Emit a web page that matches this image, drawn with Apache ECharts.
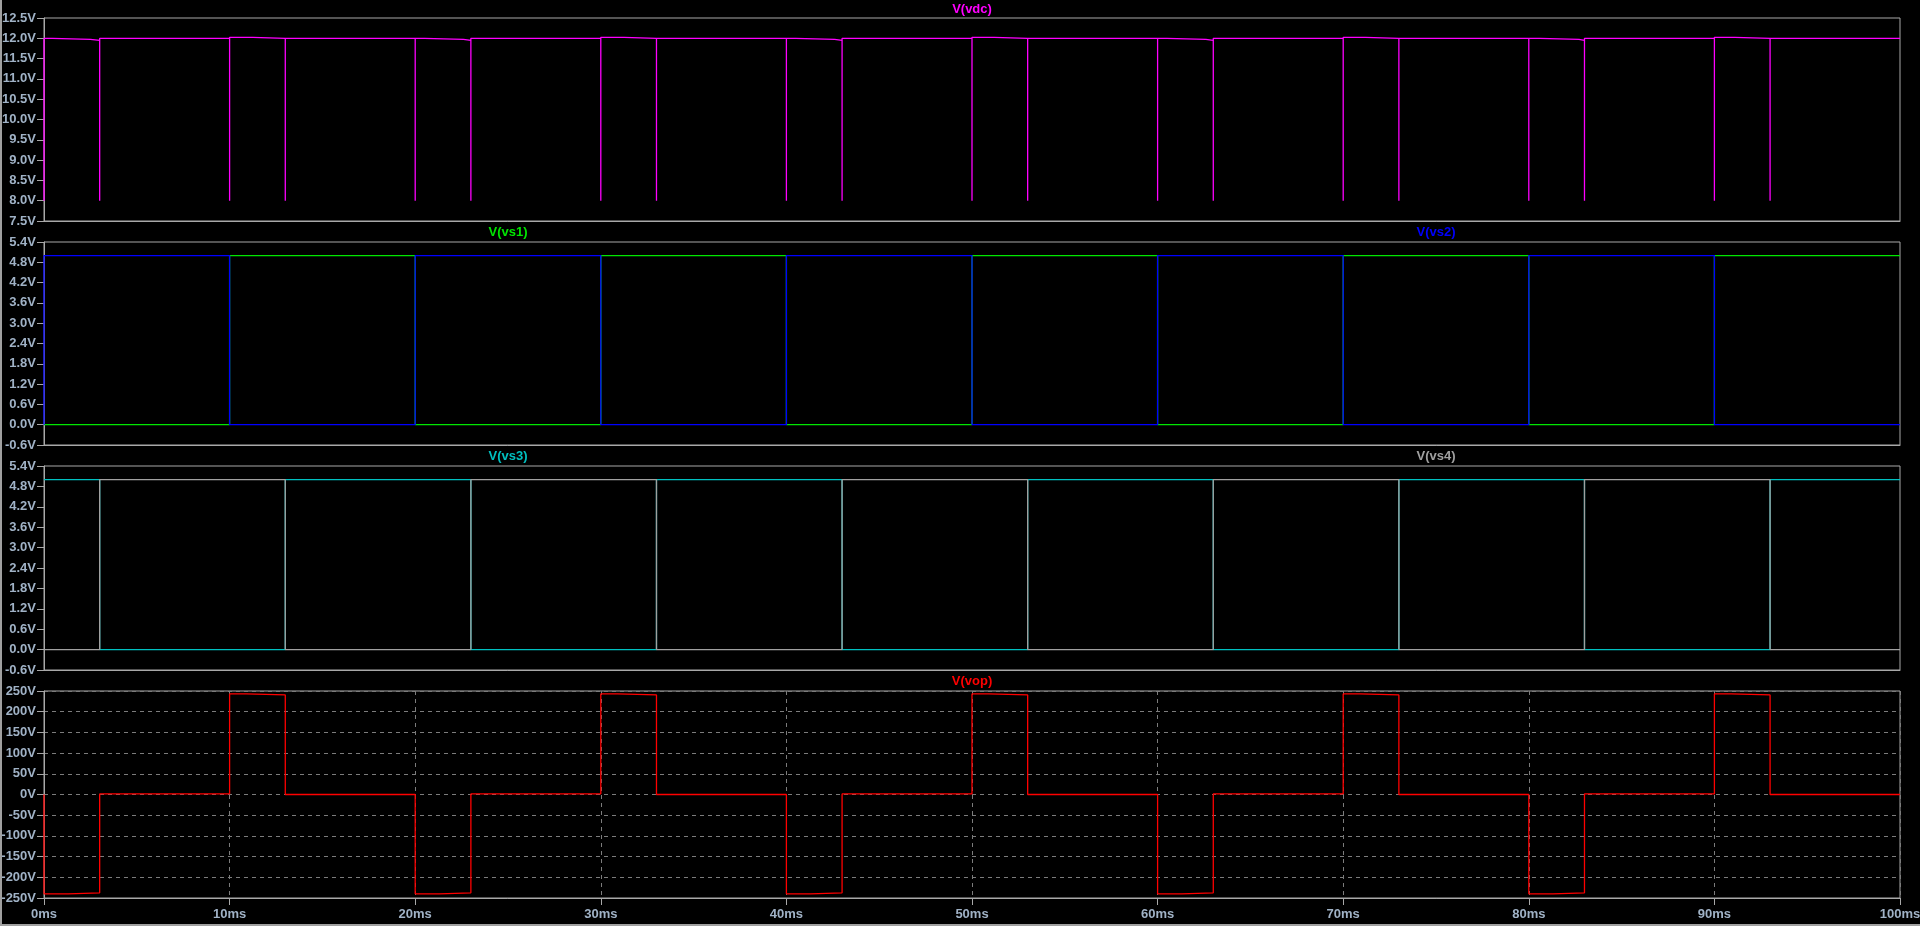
<!DOCTYPE html>
<html><head><meta charset="utf-8">
<script src="https://cdn.jsdelivr.net/npm/echarts@6/dist/echarts.min.js"></script>
<style>
html,body{margin:0;padding:0;background:#000;overflow:hidden}
#c{width:1920px;height:926px;position:absolute;left:0;top:0}
.edge{position:absolute;background:#a0a0a0;pointer-events:none}
</style>
</head><body>
<div id="c"></div>
<div class="edge" style="left:0;top:0;width:2px;height:926px"></div>
<div class="edge" style="left:0;top:924px;width:1920px;height:2px"></div>
<script>
// ---- data (time in ms, value in V) ----
const paneTitles = ['V(vdc)', 'V(vs1)', 'V(vs2)', 'V(vs3)', 'V(vs4)', 'V(vop)'];
const xTicks = { min: 0, max: 100, step: 10 };
const yTicksVdc = { min: 7.5, max: 12.5, step: 0.5 };
const yTicksVs = { min: -0.6, max: 5.4, step: 0.6 };
const yTicksVop = { min: -250, max: 250, step: 50 };

const vdc = [
  [0,12],[0,8],[0,12],[0.45,12],[0.45,11.975],[2.5,11.975],[2.5,11.95],[3,11.95],[3,8],[3,12],
  [10,12],[10,8],[10,12.025],[11.25,12.025],[11.25,12],[13,12],[13,8],[13,12],
  [20,12],[20,8],[20,12],[20.5,12],[20.5,11.975],[22.6,11.975],[22.6,11.95],[23,11.95],[23,8],[23,12],
  [30,12],[30,8],[30,12.025],[31.25,12.025],[31.25,12],[33,12],[33,8],[33,12],
  [40,12],[40,8],[40,12],[40.5,12],[40.5,11.975],[42.6,11.975],[42.6,11.95],[43,11.95],[43,8],[43,12],
  [50,12],[50,8],[50,12.025],[51.2,12.025],[51.2,12],[53,12],[53,8],[53,12],
  [60,12],[60,8],[60,12],[60.5,12],[60.5,11.975],[62.6,11.975],[62.6,11.95],[63,11.95],[63,8],[63,12],
  [70,12],[70,8],[70,12.025],[71.2,12.025],[71.2,12],[73,12],[73,8],[73,12],
  [80,12],[80,8],[80,12],[80.6,12],[80.6,11.975],[82.7,11.975],[82.7,11.95],[83,11.95],[83,8],[83,12],
  [90,12],[90,8],[90,12.025],[91.1,12.025],[91.1,12],[93,12],[93,8],[93,12],[100,12]
];

const vs1 = [
  [0,0],[10,0],[10,5],[20,5],[20,0],[30,0],[30,5],[40,5],[40,0],[50,0],[50,5],
  [60,5],[60,0],[70,0],[70,5],[80,5],[80,0],[90,0],[90,5],[100,5]
];
const vs2 = [
  [0,0],[0,5],[10,5],[10,0],[20,0],[20,5],[30,5],[30,0],[40,0],[40,5],[50,5],[50,0],
  [60,0],[60,5],[70,5],[70,0],[80,0],[80,5],[90,5],[90,0],[100,0]
];
const vs3 = [
  [0,5],[3,5],[3,0],[13,0],[13,5],[23,5],[23,0],[33,0],[33,5],[43,5],[43,0],
  [53,0],[53,5],[63,5],[63,0],[73,0],[73,5],[83,5],[83,0],[93,0],[93,5],[100,5]
];
const vs4 = [
  [0,0],[3,0],[3,5],[13,5],[13,0],[23,0],[23,5],[33,5],[33,0],[43,0],[43,5],
  [53,5],[53,0],[63,0],[63,5],[73,5],[73,0],[83,0],[83,5],[93,5],[93,0],[100,0]
];

const vop = [
  [0,0],[0,-240],[1.3,-240],[1.3,-237.5],[3,-237.5],[3,1.5],[10,1.5],[10,243],[10.9,243],[10.9,240.5],[13,240.5],[13,0],
  [20,0],[20,-240],[21.3,-240],[21.3,-237.5],[23,-237.5],[23,1.5],[30,1.5],[30,243],[30.9,243],[30.9,240.5],[33,240.5],[33,0],
  [40,0],[40,-240],[41.3,-240],[41.3,-237.5],[43,-237.5],[43,1.5],[50,1.5],[50,243],[50.9,243],[50.9,240.5],[53,240.5],[53,0],
  [60,0],[60,-240],[61.3,-240],[61.3,-237.5],[63,-237.5],[63,1.5],[70,1.5],[70,243],[70.9,243],[70.9,240.5],[73,240.5],[73,0],
  [80,0],[80,-240],[81.3,-240],[81.3,-237.5],[83,-237.5],[83,1.5],[90,1.5],[90,243],[90.9,243],[90.9,240.5],[93,240.5],[93,0],
  [100,0]
];

// ---- styling ----
const FRAME = '#a8a8a8';
const LABEL = '#a0b2c6';
const FONT = '"Liberation Sans", Arial, sans-serif';
const C = { vdc:'#ff00ff', vs1:'#00e600', vs2:'#0000ff', vs3:'#00c0c0', vs4:'#a0a0a0', vop:'#ff0000' };

const grids = [
  { top: 18, height: 203 },
  { top: 242, height: 203 },
  { top: 466, height: 204 },
  { top: 691, height: 207 }
].map(g => Object.assign({ left: 44, right: 20, show: true, borderColor: FRAME, borderWidth: 1,
  backgroundColor: '#000', containLabel: false, outerBoundsMode: 'none' }, g));

const dashed = { show: true, lineStyle: { color: '#7c7c7c', type: [4, 4], width: 1 } };

function xAx(i, last) {
  return {
    type: 'value', gridIndex: i, min: xTicks.min, max: xTicks.max, interval: xTicks.step,
    axisLine: { show: true, onZero: false, lineStyle: { color: FRAME } },
    axisTick: { show: last, length: 7, inside: false, lineStyle: { color: FRAME } },
    axisLabel: { show: last, color: LABEL, fontSize: 13, fontWeight: 'bold', fontFamily: FONT,
      margin: 10, showMinLabel: true, showMaxLabel: true, formatter: v => Math.round(v) + 'ms' },
    splitLine: last ? dashed : { show: false }
  };
}
function yAx(i, t, fmt, grid) {
  return {
    type: 'value', gridIndex: i, min: t.min, max: t.max, interval: t.step,
    axisLine: { show: true, onZero: false, lineStyle: { color: FRAME } },
    axisTick: { show: true, length: 7, lineStyle: { color: FRAME } },
    axisLabel: { color: LABEL, fontSize: 13, fontWeight: 'bold', fontFamily: FONT, margin: 8,
      showMinLabel: true, showMaxLabel: true, formatter: fmt },
    splitLine: grid ? dashed : { show: false }
  };
}
const f1 = v => v.toFixed(1) + 'V';
const f0 = v => Math.round(v) + 'V';

function ttl(text, x, y, color) {
  return { text, left: x, top: y, textAlign: 'center', padding: 0,
    textStyle: { color, fontSize: 13, fontWeight: 'bold', fontFamily: FONT } };
}
const plotL = 44, plotW = 1856;

function ser(name, data, color, i) {
  return { name, type: 'line', xAxisIndex: i, yAxisIndex: i, data, showSymbol: false, symbol: 'none',
    lineStyle: { color, width: 1.3 }, itemStyle: { color }, animation: false, silent: true, z: 3 };
}

const option = {
  backgroundColor: '#000',
  animation: false,
  title: [
    ttl(paneTitles[0], plotL + plotW / 2, 3, C.vdc),
    ttl(paneTitles[1], plotL + plotW / 4, 226, C.vs1),
    ttl(paneTitles[2], plotL + plotW * 3 / 4, 226, C.vs2),
    ttl(paneTitles[3], plotL + plotW / 4, 450, C.vs3),
    ttl(paneTitles[4], plotL + plotW * 3 / 4, 450, C.vs4),
    ttl(paneTitles[5], plotL + plotW / 2, 675, C.vop)
  ],
  grid: grids,
  xAxis: [xAx(0, false), xAx(1, false), xAx(2, false), xAx(3, true)],
  yAxis: [yAx(0, yTicksVdc, f1, false), yAx(1, yTicksVs, f1, false), yAx(2, yTicksVs, f1, false), yAx(3, yTicksVop, f0, true)],
  series: [
    ser('V(vdc)', vdc, C.vdc, 0),
    ser('V(vs1)', vs1, C.vs1, 1),
    ser('V(vs2)', vs2, C.vs2, 1),
    ser('V(vs3)', vs3, C.vs3, 2),
    ser('V(vs4)', vs4, C.vs4, 2),
    ser('V(vop)', vop, C.vop, 3)
  ]
};
const chart = echarts.init(document.getElementById('c'), null, { renderer: 'canvas' });
chart.setOption(option);
</script>
</body></html>
